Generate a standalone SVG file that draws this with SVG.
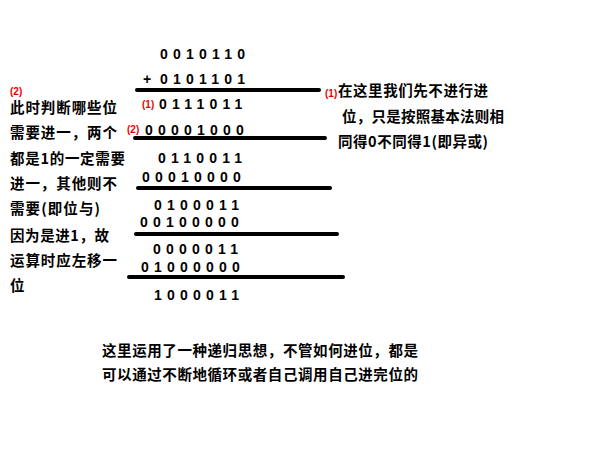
<svg xmlns="http://www.w3.org/2000/svg" width="600" height="450" viewBox="0 0 600 450">
<style>
text{font-family:"Noto Sans CJK SC","Liberation Sans",sans-serif;font-weight:bold;font-size:14.5px;fill:#000}
.d{font-family:"Liberation Sans",sans-serif;letter-spacing:5.2px;font-size:14px}
.r{fill:#e00;font-size:10px;font-family:"Liberation Sans",sans-serif}
line{stroke:#000;stroke-width:4;stroke-linecap:round}
</style>
<rect width="600" height="450" fill="#fff"/>
<g id="connectors">
<line x1="137" y1="90" x2="319" y2="90"/>
<line x1="135" y1="138" x2="325" y2="138"/>
<line x1="138" y1="188" x2="330" y2="188"/>
<line x1="136" y1="234" x2="337" y2="234"/>
<line x1="129" y1="277" x2="343" y2="277"/>
</g>
<g id="sum">
<text class="d" x="160" y="59">0010110</text>
<text class="d" x="143" y="84">+</text>
<text class="d" x="160" y="84">0101101</text>
<text class="r" x="142" y="108">(1)</text>
<text class="d" x="159" y="109">0111011</text>
<text class="r" x="127" y="133">(2)</text>
<text class="d" x="145" y="135">00001000</text>
<text class="d" x="158" y="163">0110011</text>
<text class="d" x="142" y="182">00010000</text>
<text class="d" x="154" y="210">0100011</text>
<text class="d" x="140" y="227">00100000</text>
<text class="d" x="153" y="254">0000011</text>
<text class="d" x="141" y="272">01000000</text>
<text class="d" x="154" y="300">1000011</text>
</g>
<g id="left-note">
<text class="r" x="10" y="95">(2)</text>
<text x="10" y="113" textLength="107">此时判断哪些位</text>
<text x="10" y="138" textLength="107">需要进一，两个</text>
<text x="10" y="164" textLength="115">都是1的一定需要</text>
<text x="10" y="189" textLength="107">进一，其他则不</text>
<text x="10" y="214" textLength="90">需要(即位与)</text>
<text x="10" y="241" textLength="99">因为是进1，故</text>
<text x="10" y="266" textLength="107">运算时应左移一</text>
<text x="10" y="291">位</text>
</g>
<g id="right-note">
<text class="r" x="325" y="97">(1)</text>
<text x="338" y="96" textLength="150">在这里我们先不进行进</text>
<text x="342" y="122" textLength="162">位，只是按照基本法则相</text>
<text x="338" y="147" textLength="150">同得0不同得1(即异或)</text>
</g>
<g id="bottom-note">
<text x="102" y="356" textLength="316">这里运用了一种递归思想，不管如何进位，都是</text>
<text x="102" y="380" textLength="316">可以通过不断地循环或者自己调用自己进完位的</text>
</g>
</svg>
